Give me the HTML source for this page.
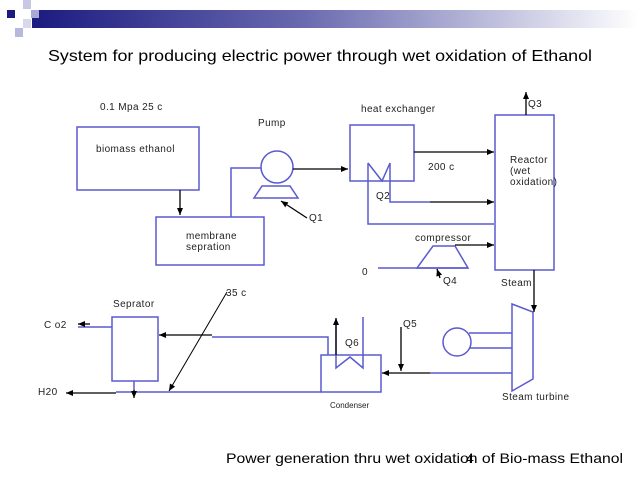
<!DOCTYPE html>
<html><head><style>
body{margin:0;width:638px;height:479px;background:#fff;overflow:hidden;font-family:"Liberation Sans",sans-serif}
</style></head><body>
<svg width="638" height="479" xmlns="http://www.w3.org/2000/svg" font-family="Liberation Sans, sans-serif">
<defs>
<linearGradient id="g" x1="0" x2="1" y1="0" y2="0">
<stop offset="0" stop-color="#1b1b80"/><stop offset="0.45" stop-color="#6a6ab0"/><stop offset="1" stop-color="#ffffff"/>
</linearGradient>
<marker id="a" markerWidth="8" markerHeight="8" refX="7" refY="3" orient="auto" markerUnits="userSpaceOnUse"><path d="M0,0 L7,3 L0,6 z" fill="#000"/></marker>
</defs>
<rect x="32" y="10" width="606" height="18" fill="url(#g)"/>
<rect x="7" y="10" width="8" height="8" fill="#1b1b80"/>
<rect x="23" y="0" width="8" height="9" fill="#c8c8e4"/>
<rect x="31" y="10" width="8" height="8" fill="#a8a8d4"/>
<rect x="23" y="19" width="8" height="9" fill="#d8d8ec"/>
<rect x="15" y="28" width="8" height="9" fill="#b8b8dc"/>
<text x="48" y="61" font-size="16" fill="#000" textLength="544" lengthAdjust="spacingAndGlyphs">System for producing electric power through wet oxidation of Ethanol</text>

<g fill="none" stroke="#5a5ad0" stroke-width="1.5">
<rect x="77" y="127" width="122" height="63"/>
<rect x="156" y="217" width="108" height="48"/>
<polyline points="231,217 231,168 261,168"/>
<circle cx="277" cy="167" r="16"/>
<polygon points="262,186 254,198 298,198 290,186"/>
<rect x="350" y="125" width="64" height="56"/>
<polyline points="368,163 382,181 390,163"/>
<polyline points="368,163 368,224 494,224"/>
<polyline points="390,163 390,202 430,202"/>
<rect x="495" y="115" width="59" height="155"/>
<polygon points="433,246 455,246 468,268 417,268"/>
<line x1="378" y1="268" x2="468" y2="268"/>
<polygon points="512,304 533,312 533,379 512,391"/>
<circle cx="457" cy="342" r="14"/>
<line x1="469" y1="333" x2="512" y2="333"/>
<line x1="469" y1="348" x2="512" y2="348"/>
<line x1="430" y1="373" x2="512" y2="373"/>
<rect x="321" y="355" width="60" height="37"/>
<polyline points="336,319 336,368 350,357 363,368 363,317"/>
<rect x="112" y="317" width="46" height="64"/>
<polyline points="212,337 328,337 328,355"/>
<line x1="78" y1="327" x2="112" y2="327"/>
<line x1="116" y1="392" x2="321" y2="392"/>
<line x1="134" y1="381" x2="134" y2="392"/>
</g>
<g stroke="#000" stroke-width="1.3" fill="none">
<line x1="180" y1="190" x2="180" y2="215" marker-end="url(#a)"/>
<line x1="293" y1="169" x2="348" y2="169" marker-end="url(#a)"/>
<line x1="307" y1="218" x2="281" y2="201" marker-end="url(#a)"/>
<line x1="414" y1="152" x2="494" y2="152" marker-end="url(#a)"/>
<line x1="430" y1="202" x2="494" y2="202" marker-end="url(#a)"/>
<line x1="526" y1="115" x2="526" y2="92" marker-end="url(#a)"/>
<line x1="455" y1="245" x2="494" y2="245" marker-end="url(#a)"/>
<line x1="440" y1="278" x2="437" y2="269" marker-end="url(#a)"/>
<line x1="534" y1="270" x2="534" y2="312" marker-end="url(#a)"/>
<line x1="430" y1="373" x2="382" y2="373" marker-end="url(#a)"/>
<line x1="401" y1="327" x2="401" y2="371" marker-end="url(#a)"/>
<line x1="336" y1="355" x2="336" y2="318" marker-end="url(#a)"/>
<line x1="212" y1="335" x2="159" y2="335" marker-end="url(#a)"/>
<line x1="90" y1="324" x2="78" y2="324" marker-end="url(#a)"/>
<line x1="116" y1="393" x2="66" y2="393" marker-end="url(#a)"/>
<line x1="134" y1="390" x2="134" y2="398" marker-end="url(#a)"/>
<line x1="227" y1="292" x2="169" y2="391" marker-end="url(#a)" stroke-width="1"/>
</g>
<g font-size="10" fill="#222" letter-spacing="0.4">
<text x="100" y="110">0.1 Mpa 25 c</text>
<text x="96" y="152">biomass ethanol</text>
<text x="186" y="239">membrane</text>
<text x="186" y="250">sepration</text>
<text x="258" y="126">Pump</text>
<text x="309" y="221">Q1</text>
<text x="361" y="112">heat exchanger</text>
<text x="428" y="170">200 c</text>
<text x="376" y="199">Q2</text>
<text x="528" y="107">Q3</text>
<text x="510" y="163">Reactor</text>
<text x="510" y="174">(wet</text>
<text x="510" y="185">oxidation)</text>
<text x="415" y="241">compressor</text>
<text x="362" y="275">0</text>
<text x="443" y="284">Q4</text>
<text x="501" y="286">Steam</text>
<text x="403" y="327">Q5</text>
<text x="345" y="346">Q6</text>
<text x="502" y="400">Steam turbine</text>
<text x="330" y="408" font-size="8" letter-spacing="0">Condenser</text>
<text x="113" y="307">Seprator</text>
<text x="44" y="328">C o2</text>
<text x="38" y="395">H20</text>
<text x="226" y="296">35 c</text>
</g>
<text x="226" y="463" font-size="14" fill="#000" textLength="397" lengthAdjust="spacingAndGlyphs">Power generation thru wet oxidation of Bio-mass Ethanol</text>
<text x="466" y="463" font-size="14" fill="#000">4</text>
</svg>
</body></html>
